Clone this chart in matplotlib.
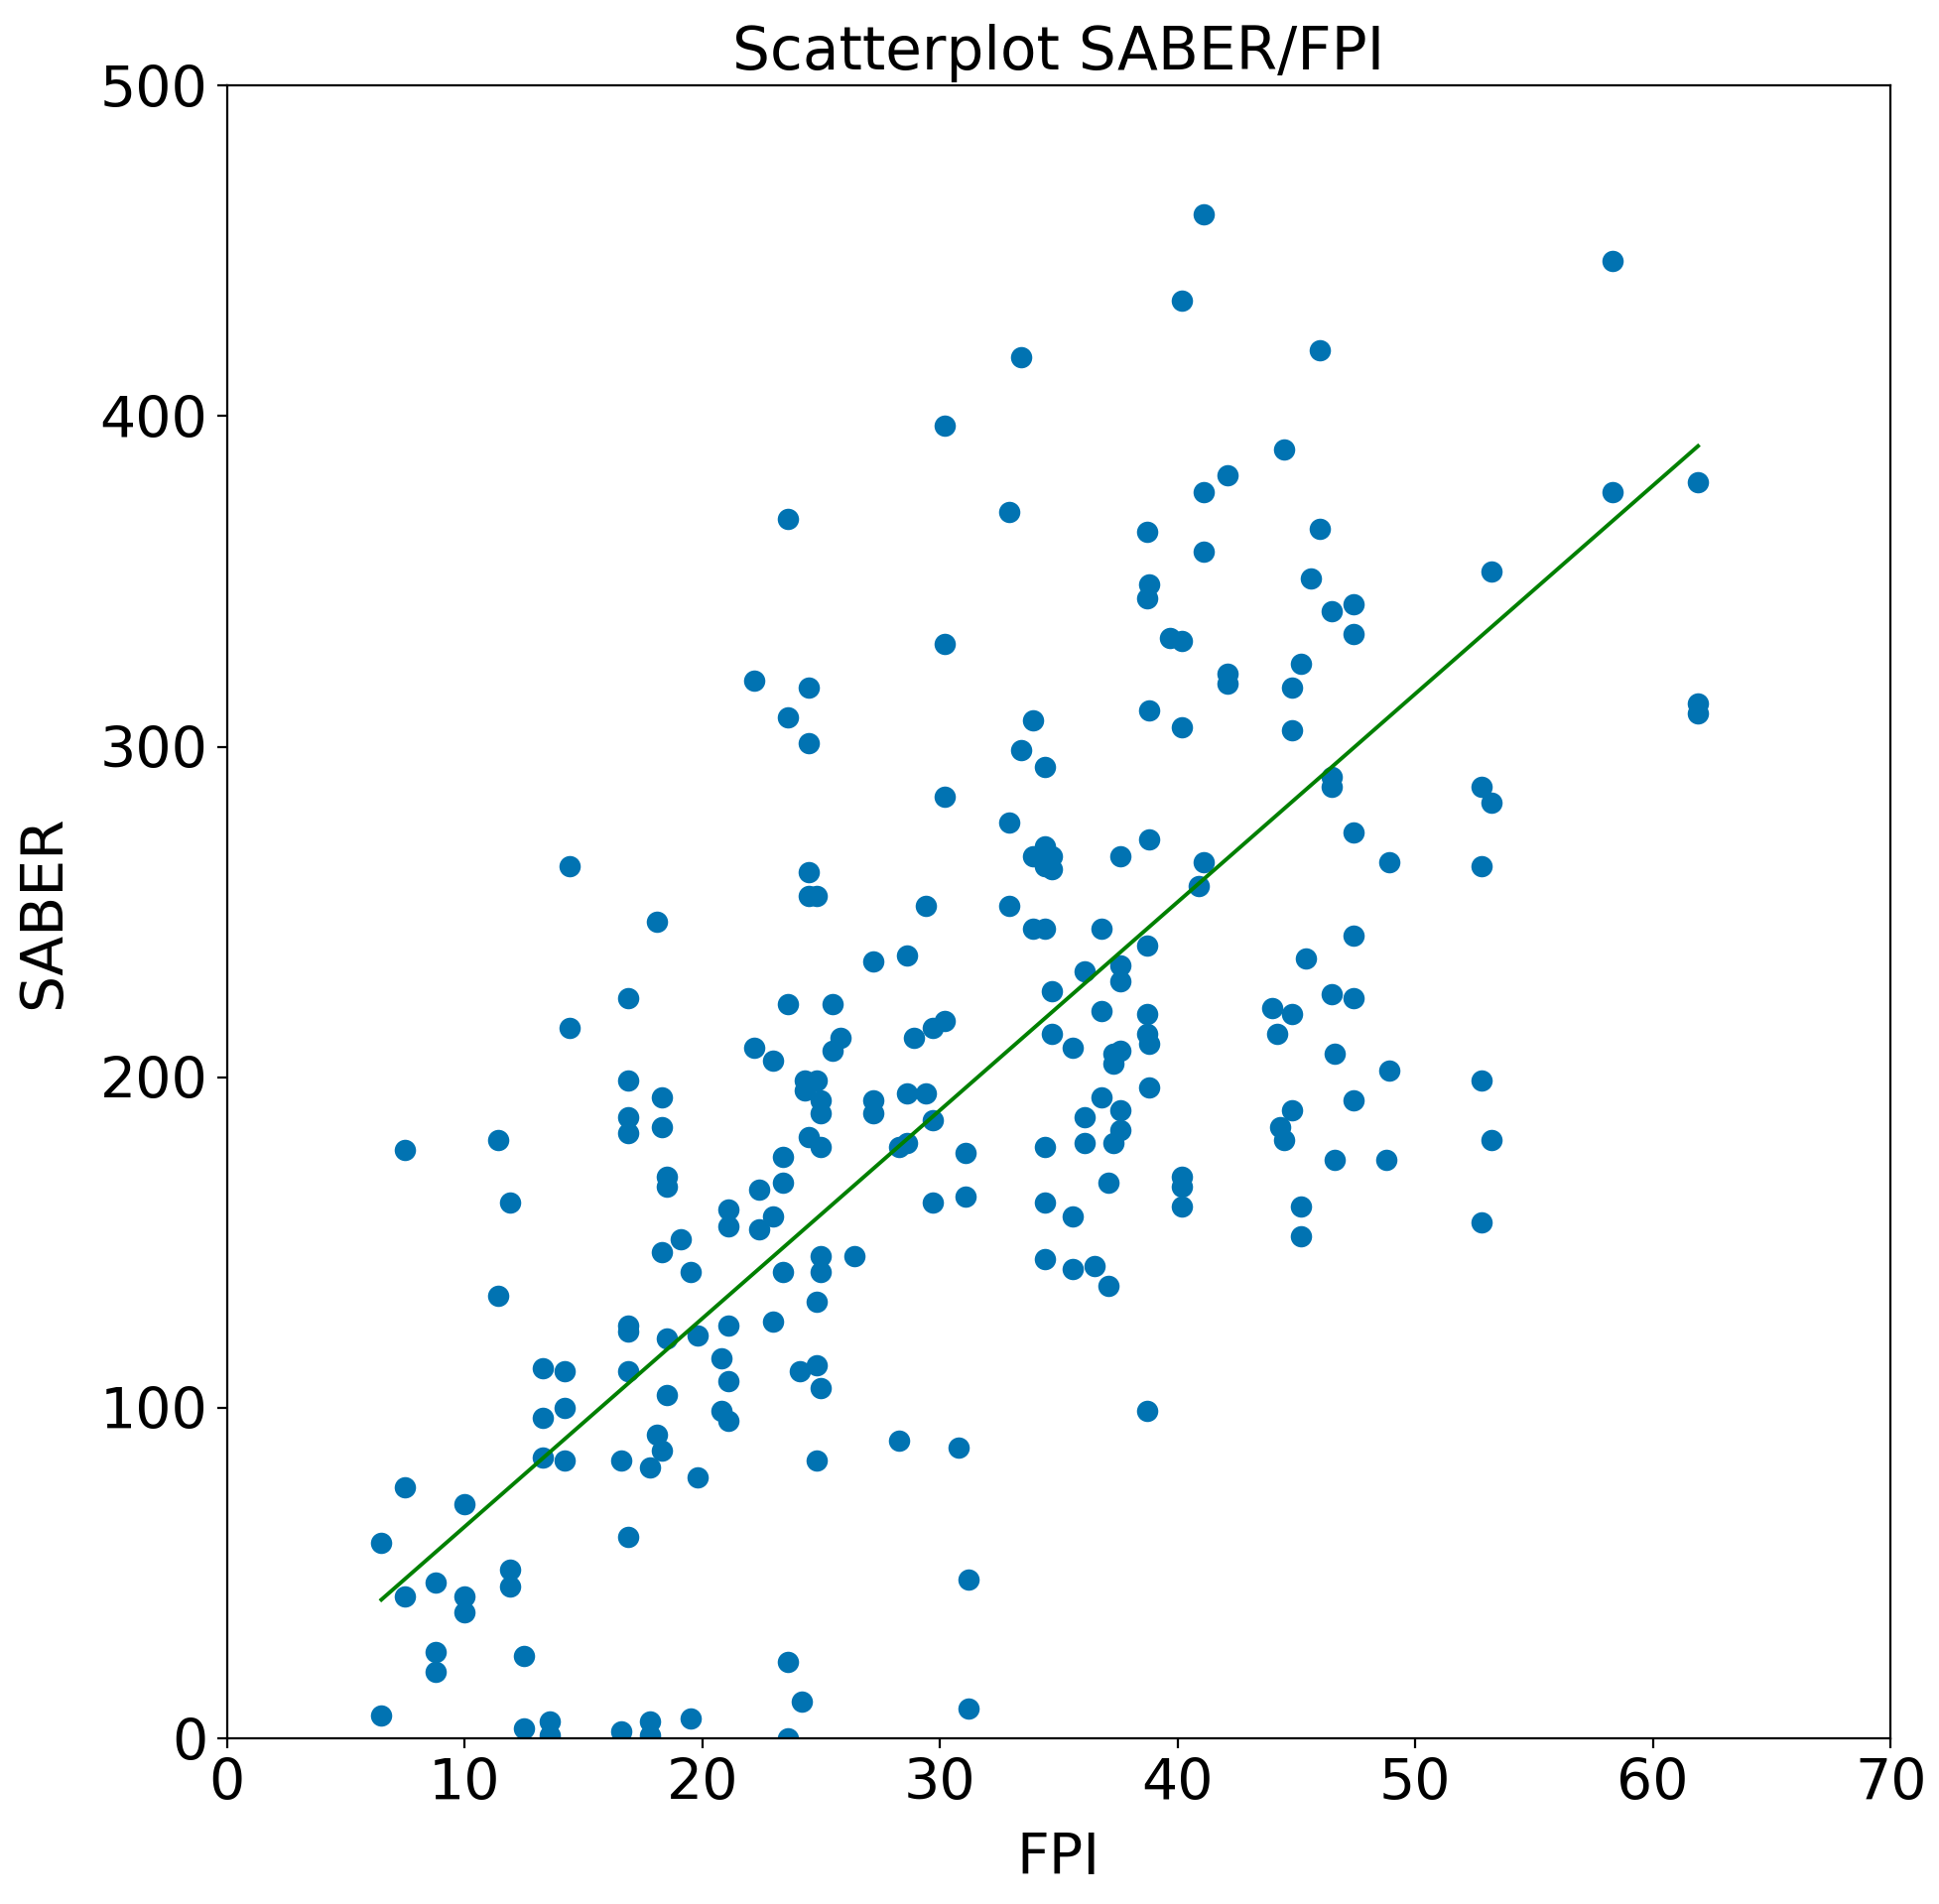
import matplotlib.pyplot as plt
import numpy as np

# FPI (x) and SABER (y) pairs
fpi = [
    6.5, 6.5, 7.5, 7.5, 7.5, 8.8, 8.8, 8.8, 10, 10, 10, 11.4, 11.4,
    11.9, 11.9, 11.9, 12.5, 12.5, 13.3, 13.3, 13.3, 13.6, 13.6,
    14.2, 14.2, 14.2, 14.4, 14.4, 16.6, 16.6,
    16.9, 16.9, 16.9, 16.9, 16.9, 16.9, 16.9, 16.9,
    17.8, 17.8, 17.8, 18.1, 18.1, 18.3, 18.3, 18.3, 18.3,
    18.5, 18.5, 18.5, 18.5, 19.1, 19.5, 19.5, 19.8, 19.8, 20.8, 20.8,
    21.1, 21.1, 21.1, 21.1, 21.1, 22.2, 22.2, 22.4, 22.4,
    23.0, 23.0, 23.0, 23.4, 23.4, 23.4,
    23.6, 23.6, 23.6, 23.6, 23.6, 24.1, 24.2, 24.3, 24.3,
    24.5, 24.5, 24.5, 24.5, 24.5, 24.8, 24.8, 24.8, 24.8, 24.8,
    25.0, 25.0, 25.0, 25.0, 25.0, 25.0, 25.5, 25.5, 25.8, 26.4,
    27.2, 27.2, 27.2, 28.3, 28.3, 28.6, 28.6, 28.6, 28.9,
    29.4, 29.4, 29.7, 29.7, 29.7, 30.2, 30.2, 30.2, 30.2, 30.8,
    31.1, 31.1, 31.2, 31.2, 32.9, 32.9, 32.9, 33.4, 33.4,
    33.9, 33.9, 33.9, 34.4, 34.4, 34.4, 34.4, 34.4, 34.4, 34.4,
    34.7, 34.7, 34.7, 34.7, 35.6, 35.6, 35.6, 36.1, 36.1, 36.1, 36.5,
    36.8, 36.8, 36.8, 37.1, 37.1, 37.3, 37.3, 37.3,
    37.6, 37.6, 37.6, 37.6, 37.6, 37.6,
    38.7, 38.7, 38.7, 38.7, 38.7, 38.7, 38.8, 38.8, 38.8, 38.8, 38.8,
    39.7, 40.2, 40.2, 40.2, 40.2, 40.2, 40.2, 40.9,
    41.1, 41.1, 41.1, 41.1, 42.1, 42.1, 42.1,
    44.0, 44.2, 44.3, 44.5, 44.5, 44.8, 44.8, 44.8, 44.8,
    45.2, 45.2, 45.2, 45.4, 45.6, 46.0, 46.0,
    46.5, 46.5, 46.5, 46.5, 46.6, 46.6,
    47.4, 47.4, 47.4, 47.4, 47.4, 47.4, 48.8, 48.9, 48.9,
    52.8, 52.8, 52.8, 52.8, 53.2, 53.2, 53.2, 58.3, 58.3,
    61.9, 61.9, 61.9,
]
saber = [
    59, 7, 178, 76, 43, 47, 26, 20, 71, 43, 38, 181, 134,
    162, 51, 46, 25, 3, 112, 97, 85, 5, 1,
    111, 100, 84, 264, 215, 84, 2,
    224, 199, 188, 183, 125, 123, 111, 61,
    82, 5, 1, 247, 92, 194, 185, 147, 87,
    121, 170, 167, 104, 151, 141, 6, 122, 79, 115, 99,
    160, 155, 125, 108, 96, 320, 209, 166, 154,
    205, 158, 126, 176, 168, 141,
    369, 309, 222, 23, 0, 111, 11, 199, 196,
    318, 301, 262, 255, 182, 255, 199, 132, 113, 84,
    193, 189, 179, 146, 141, 106, 222, 208, 212, 146,
    235, 193, 189, 90, 179, 237, 195, 180, 212,
    252, 195, 215, 187, 162, 397, 331, 285, 217, 88,
    177, 164, 48, 9, 371, 277, 252, 418, 299,
    308, 267, 245, 294, 270, 264, 245, 179, 162, 145,
    267, 263, 226, 213, 209, 158, 142, 232, 188, 180, 143,
    245, 220, 194, 168, 137, 207, 204, 180,
    267, 234, 229, 190, 184, 208,
    365, 345, 240, 213, 219, 99, 349, 311, 272, 210, 197,
    333, 435, 332, 306, 170, 167, 161, 258,
    461, 377, 359, 265, 382, 322, 319,
    221, 213, 185, 181, 390, 318, 305, 219, 190,
    325, 161, 152, 236, 351, 420, 366,
    341, 291, 288, 225, 207, 175,
    343, 334, 274, 243, 224, 193, 175, 265, 202,
    288, 264, 199, 156, 353, 283, 181, 447, 377,
    380, 313, 310,
]

# regression line as drawn in the reference
fit_slope = 6.30
fit_intercept = 1.0

fig = plt.figure(figsize=(9.77, 9.595), dpi=200)
ax = fig.add_axes([0.117, 0.087, 0.858, 0.868])

ax.scatter(fpi, saber, s=60, color="#0173b2", linewidths=0, zorder=2)

x_line = np.array([min(fpi), max(fpi)])
ax.plot(x_line, fit_slope * x_line + fit_intercept, color="g", linewidth=1.4, zorder=3)

ax.set_xlim(0, 70)
ax.set_ylim(0, 500)
ax.set_xticks(range(0, 71, 10))
ax.set_yticks(range(0, 501, 100))
ax.tick_params(labelsize=20.5)
ax.set_xlabel("FPI", fontsize=20.5, labelpad=7)
ax.set_ylabel("SABER", fontsize=21, labelpad=10)
ax.set_title("Scatterplot SABER/FPI", fontsize=21.5, pad=6)

fig.savefig("out.png", dpi=200)
